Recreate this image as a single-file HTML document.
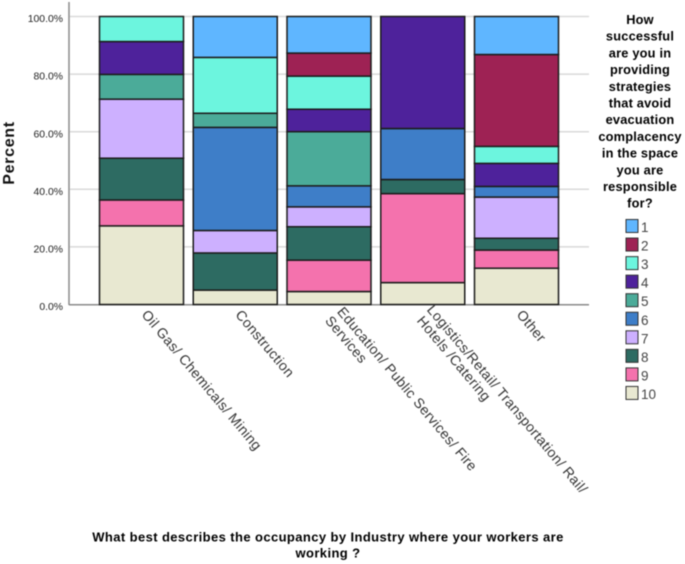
<!DOCTYPE html>
<html lang="en">
<head>
<meta charset="utf-8">
<title>Stacked bar chart</title>
<style>
html,body{margin:0;padding:0;background:#fff;width:685px;height:564px;overflow:hidden}
svg{display:block;filter:blur(0.45px)}
text{font-family:"Liberation Sans",sans-serif}
</style>
</head>
<body>
<svg id="chart" xmlns="http://www.w3.org/2000/svg" width="685" height="564" viewBox="0 0 685 564"></svg>
<script>
const categories = ["Oil Gas/ Chemicals/ Mining", "Construction", "Education/ Public Services/ Fire|Services", "Logistics/Retail/ Transportation/ Rail/|Hotels /Catering", "Other"];
const seriesLabels = ["1", "2", "3", "4", "5", "6", "7", "8", "9", "10"];
const series1 = [0, 14.2, 12.7, 0, 13.2];
const series2 = [0, 0, 8, 0, 31.9];
const series3 = [8.7, 19.4, 11.5, 0, 5.9];
const series4 = [11.4, 0, 7.8, 38.9, 8];
const series5 = [8.6, 4.9, 18.8, 0, 0];
const series6 = [0, 35.8, 7.3, 17.7, 3.7];
const series7 = [20.5, 7.8, 6.9, 0, 14.3];
const series8 = [14.5, 12.9, 11.6, 4.9, 4.1];
const series9 = [9, 0, 10.9, 30.9, 6.3];
const series10 = [27.3, 5, 4.5, 7.6, 12.6];
const yTicks = [0, 20, 40, 60, 80, 100];
const legendTitleLines = ["How", "successful", "are you in", "providing", "strategies", "that avoid", "evacuation", "complacency", "in the space", "you are", "responsible", "for?"];
const xTitleLines = ["What best describes the occupancy by Industry where your workers are", "working ?"];
const allSeries = [series1, series2, series3, series4, series5, series6, series7, series8, series9, series10];
const colors = ["#5FB6FF", "#9E2254", "#6CF5DE", "#4E229B", "#4BAB99", "#3E7EC8", "#CDB0FF", "#2D6B62", "#F472AD", "#E8E8D1"];

const NS = "http://www.w3.org/2000/svg";
const svg = document.getElementById("chart");
function y(v) { return 304.5 - v * 2.88; }
function xBar(i) { return 99.5 + i * 93.75; }
const barW = 84;
function make(tag, attrs, text) {
  const el = document.createElementNS(NS, tag);
  for (const k in attrs) el.setAttribute(k, attrs[k]);
  if (text !== undefined) el.textContent = text;
  svg.appendChild(el);
  return el;
}

yTicks.forEach(function (t) {
  if (t > 0) {
    const g = make("line", { x1: 70, x2: 589, y1: y(t), y2: y(t), stroke: "#d9d9d9", "stroke-width": 1.5 });
    
    
  }
  const lab = make("text", { x: 63, y: y(t) + 5.6, "text-anchor": "end", "font-size": 10.4, fill: "#222" }, t.toFixed(1) + "%");
  
  
});

const yAxis = make("line", { x1: 69, x2: 69, y1: 2, y2: 305, stroke: "#8a8a8a", "stroke-width": 1.5 });


const xAxis = make("line", { x1: 69, x2: 589, y1: 304.8, y2: 304.8, stroke: "#8a8a8a", "stroke-width": 1.5 });



categories.forEach(function (cat, c) {
  let cum = 0;
  for (let s = allSeries.length - 1; s >= 0; s--) {
    const v = allSeries[s][c];
    if (v > 0) {
      const r = make("rect", { x: xBar(c), y: y(cum + v), width: barW, height: v * 2.88, fill: colors[s], stroke: "#1c1c1c", "stroke-width": 1.5 });
      
      
      cum += v;
    }
  }
  const lines = cat.split("|");
  lines.forEach(function (line, li) {
    const cx = xBar(c) + barW / 2;
    let ox = cx - 0.5 - li * 12;
    let oy = 315 + li * 9;
    if (c === 2) { ox += 8; oy -= 3; }
    if (c === 3) { ox += 4 + li * 2; oy -= 5 + li * -2; }
    const t = make("text", { x: ox, y: oy, "font-size": 14, "letter-spacing": "0.35", fill: "#333", transform: "rotate(50 " + ox + " " + oy + ")" }, line);
    
    
  });
});

const yTitle = make("text", { x: 12, y: 153, "text-anchor": "middle", "font-size": 16, "font-weight": "bold", "letter-spacing": "0.7", fill: "#111", transform: "rotate(-90 12 153) translate(0 2)" }, "Percent");



xTitleLines.forEach(function (line, i) {
  const t = make("text", { x: 328, y: 541.5 + i * 16, "text-anchor": "middle", "font-size": 13, "font-weight": "bold", "letter-spacing": "0.4", fill: "#000" }, line);
  
  
});

legendTitleLines.forEach(function (line, i) {
  const t = make("text", { x: 640, y: 24 + i * 16.7, "text-anchor": "middle", "font-size": 12.8, "font-weight": "bold", "letter-spacing": "0.2", fill: "#000" }, line);
  
  
});

seriesLabels.forEach(function (lab, i) {
  const cy = 226 + i * 18.55;
  const sw = make("rect", { x: 626, y: cy - 6.5, width: 12, height: 13, fill: colors[i], stroke: "#333", "stroke-width": 1 });
  
  
  const t = make("text", { x: 641, y: cy + 6, "font-size": 13.5, fill: "#444" }, lab);
  
  
});
</script>
</body>
</html>
